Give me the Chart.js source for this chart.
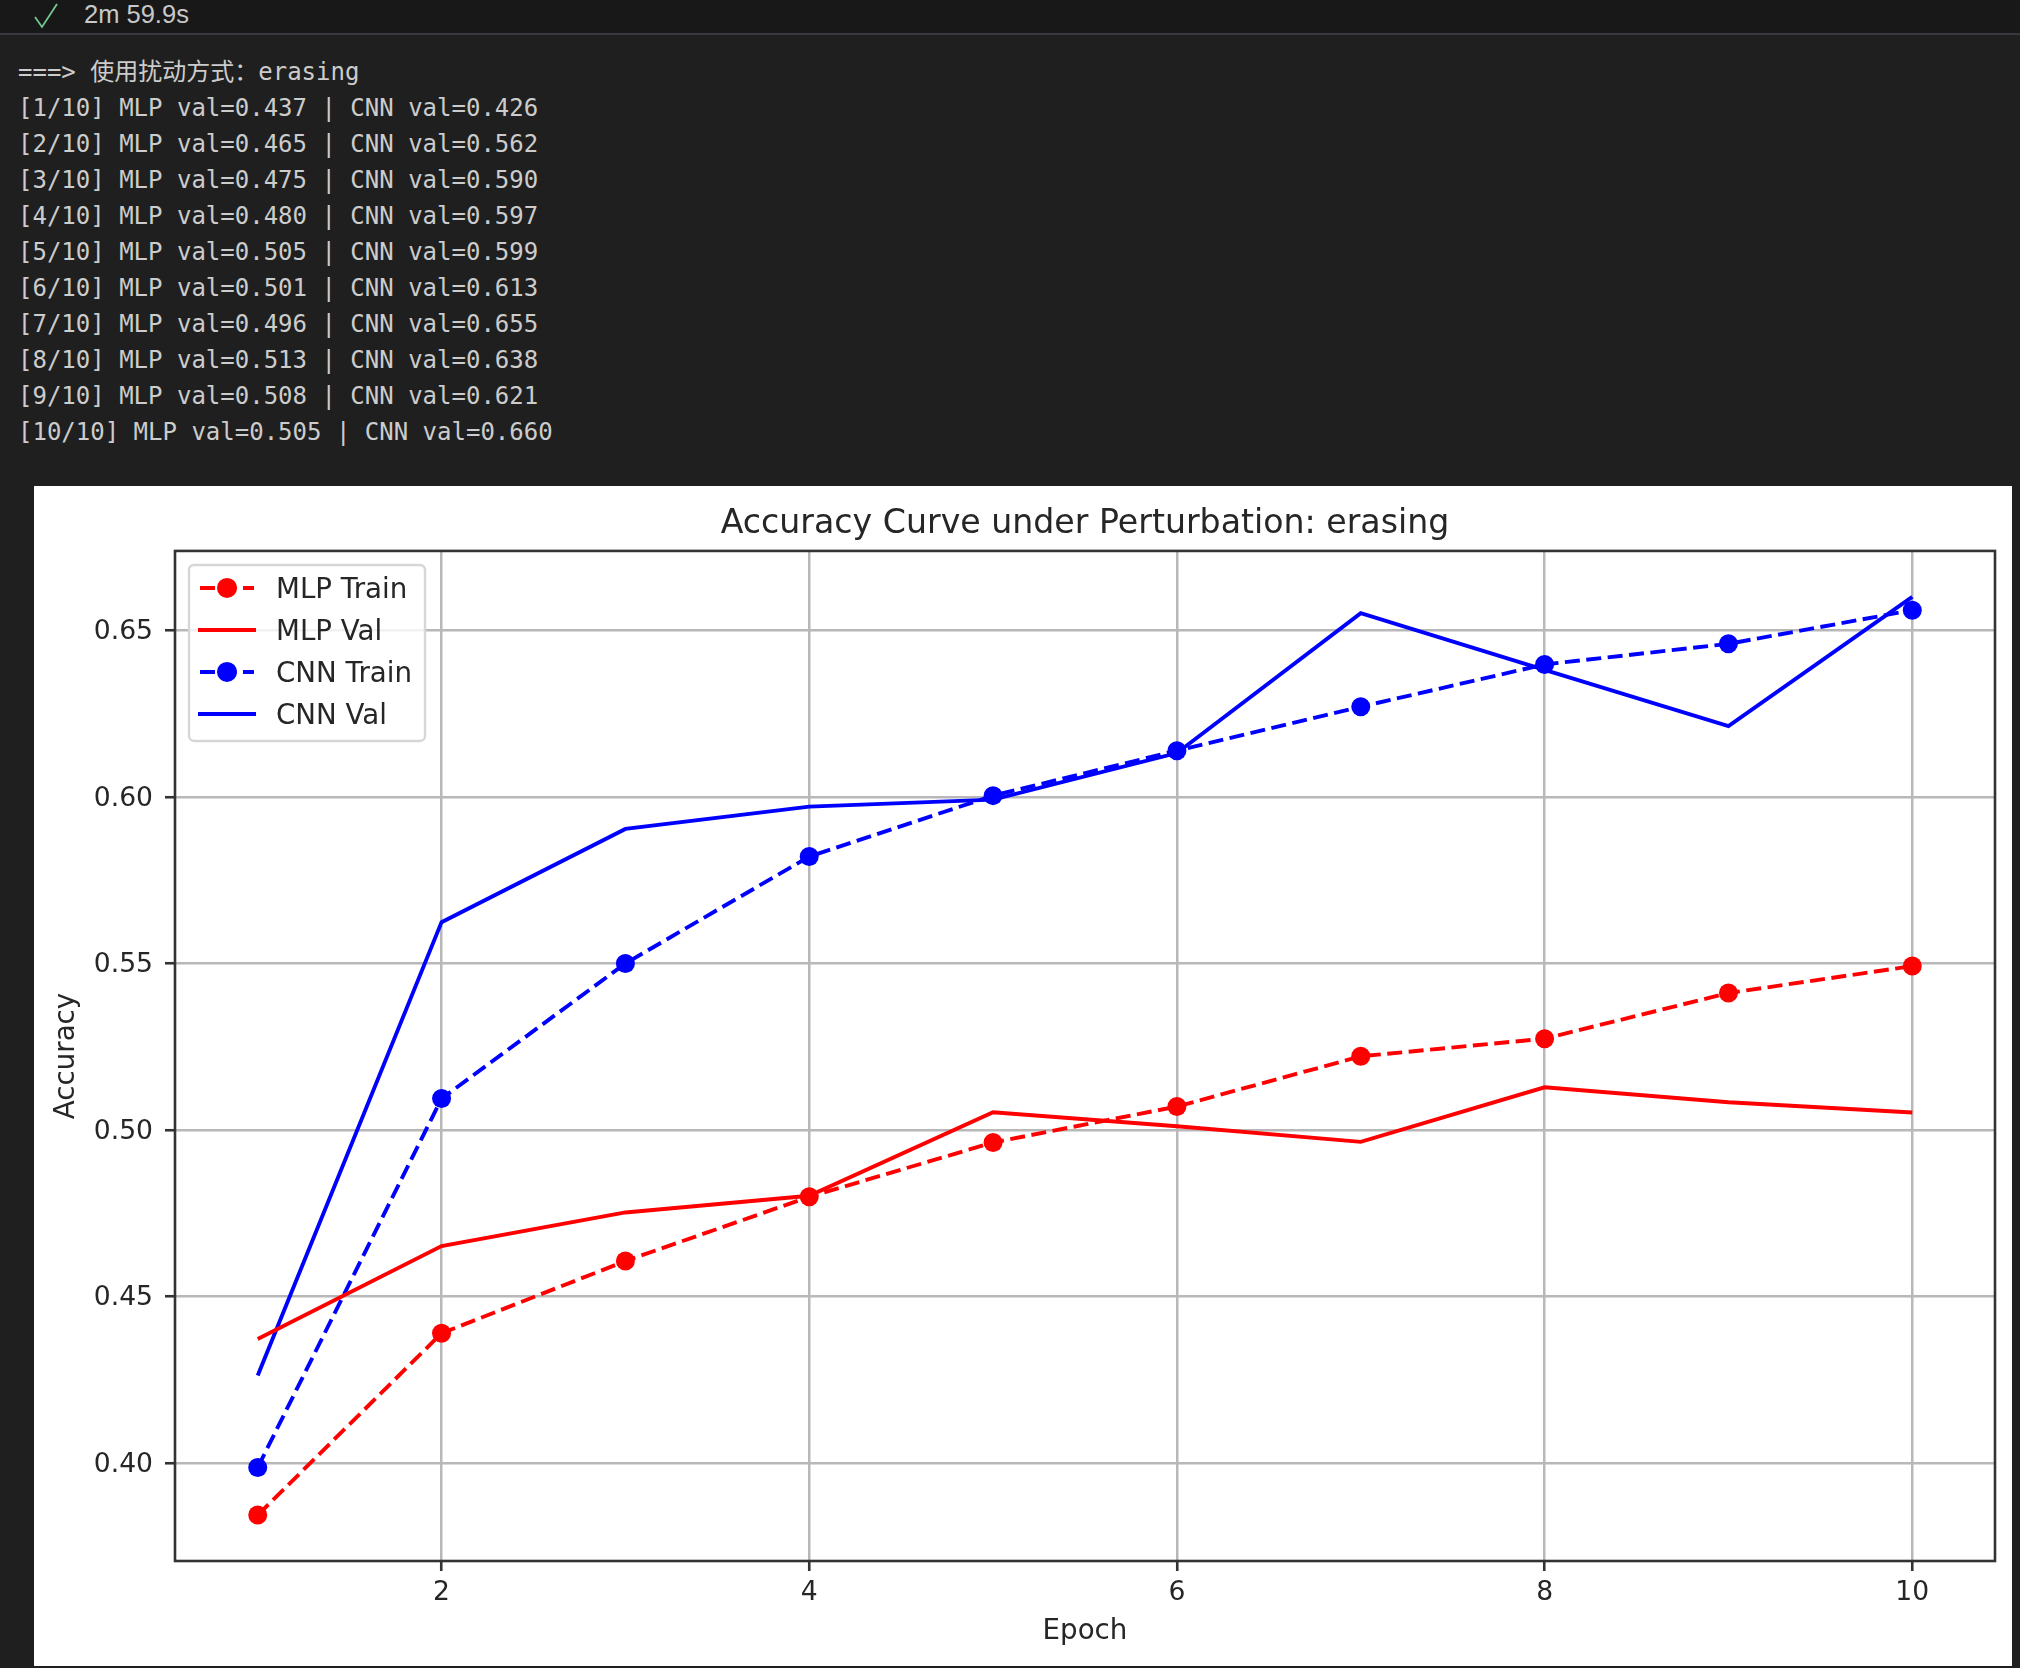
<!DOCTYPE html>
<html>
<head>
<meta charset="utf-8">
<script src="https://cdn.jsdelivr.net/npm/chart.js@4"></script>
<style>
  html, body { margin: 0; padding: 0; background: #1f1f1f; }
  body { position: relative; width: 2020px; height: 1668px; overflow: hidden; }
  #topbar { position: absolute; left: 0; top: 0; width: 2020px; height: 33px; background: #181818; border-bottom: 2px solid #38383e; }
  #check { position: absolute; left: 34px; top: 3px; }
  #elapsed { position: absolute; left: 84px; top: 0; font: 25.5px/29px "Liberation Sans", sans-serif; color: #c8c8c8; }
  #console { position: absolute; left: 18px; top: 54px; margin: 0; font: 24px/36px "DejaVu Sans Mono", "Noto Sans CJK SC", monospace; color: #cccccc; white-space: pre; }
  #chartBox { position: absolute; left: 34px; top: 486px; width: 1978px; height: 1180px; background: #fff; }
  canvas { display: block; }
</style>
</head>
<body>
<div id="topbar">
  <svg id="check" width="26" height="26" viewBox="0 0 26 26"><path d="M1 14 L8 24 L23 1" fill="none" stroke="#73c991" stroke-width="1.8"/></svg>
  <div id="elapsed">2m 59.9s</div>
</div>
<pre id="console"></pre>
<div id="chartBox"><canvas id="accChart" width="1978" height="1180"></canvas></div>
<script>
const epochs = [1, 2, 3, 4, 5, 6, 7, 8, 9, 10];
const mlpTrain = [0.3843, 0.4389, 0.4606, 0.4799, 0.4962, 0.5070, 0.5221, 0.5274, 0.5411, 0.5492];
const mlpVal = [0.4372, 0.4651, 0.4752, 0.4802, 0.5053, 0.5011, 0.4964, 0.5128, 0.5083, 0.5052];
const cnnTrain = [0.3986, 0.5094, 0.5500, 0.5821, 0.6004, 0.6139, 0.6271, 0.6398, 0.6460, 0.6561];
const cnnVal = [0.4262, 0.5624, 0.5904, 0.5971, 0.5992, 0.6132, 0.6552, 0.6382, 0.6213, 0.6601];
const xTicks = [2, 4, 6, 8, 10];
const yTicks = [0.40, 0.45, 0.50, 0.55, 0.60, 0.65];
const perturbation = 'erasing';

// terminal output above the figure
const consoleLines = ['===> 使用扰动方式：' + perturbation];
epochs.forEach((e, i) => {
  consoleLines.push(`[${e}/${epochs.length}] MLP val=${mlpVal[i].toFixed(3)} | CNN val=${cnnVal[i].toFixed(3)}`);
});
document.getElementById('console').textContent = consoleLines.join('\n');

const FONT = '"DejaVu Sans", sans-serif';
const INK = '#262626';
const LW = 3.9;
const DASH = [15, 6.5];
const LABEL_SIZE = 27.7;
const TICK_SIZE = 26.6;

function series(label, values, color, train) {
  return {
    label: label,
    data: values.map((v, i) => ({ x: epochs[i], y: v })),
    borderColor: color,
    backgroundColor: color,
    borderWidth: LW,
    borderDash: train ? DASH : [],
    pointRadius: train ? 9.5 : 0,
    pointBorderWidth: 0,
    tension: 0,
    isTrain: train
  };
}

// spines on all four sides
const framePlugin = {
  id: 'frame',
  afterDatasetsDraw(chart) {
    const a = chart.chartArea, c = chart.ctx;
    c.save();
    c.strokeStyle = '#333';
    c.lineWidth = 2.6;
    c.strokeRect(a.left, a.top, a.right - a.left, a.bottom - a.top);
    c.restore();
  }
};

// matplotlib style legend, handle has line + marker
const legendPlugin = {
  id: 'boxLegend',
  afterDraw(chart) {
    const a = chart.chartArea, c = chart.ctx;
    const x = a.left + 14, y = a.top + 14, w = 236, h = 176;
    c.save();
    c.beginPath();
    c.roundRect(x, y, w, h, 5);
    c.fillStyle = 'rgba(255,255,255,0.8)';
    c.fill();
    c.strokeStyle = '#d6d6d6';
    c.lineWidth = 2.4;
    c.stroke();
    c.font = LABEL_SIZE + 'px ' + FONT;
    c.textBaseline = 'middle';
    chart.data.datasets.forEach((ds, i) => {
      const ry = y + 23 + i * 42;
      c.strokeStyle = ds.borderColor;
      c.lineWidth = LW;
      c.setLineDash(ds.isTrain ? DASH : []);
      c.beginPath();
      c.moveTo(x + (ds.isTrain ? 11 : 9), ry);
      c.lineTo(x + (ds.isTrain ? 65 : 67), ry);
      c.stroke();
      c.setLineDash([]);
      if (ds.isTrain) {
        c.fillStyle = ds.borderColor;
        c.beginPath();
        c.arc(x + 38, ry, 10, 0, Math.PI * 2);
        c.fill();
      }
      c.fillStyle = INK;
      c.fillText(ds.label, x + 87, ry + 2.5);
    });
    c.restore();
  }
};

new Chart(document.getElementById('accChart'), {
  type: 'line',
  data: {
    datasets: [
      series('MLP Train', mlpTrain, '#ff0000', true),
      series('MLP Val', mlpVal, '#ff0000', false),
      series('CNN Train', cnnTrain, '#0000ff', true),
      series('CNN Val', cnnVal, '#0000ff', false)
    ]
  },
  options: {
    responsive: false,
    devicePixelRatio: 1,
    animation: false,
    layout: { padding: { top: 0, right: 17, bottom: 0, left: 0 } },
    plugins: {
      legend: { display: false },
      tooltip: { enabled: false },
      title: {
        display: true,
        fullSize: false,
        text: 'Accuracy Curve under Perturbation: ' + perturbation,
        color: INK,
        font: { family: FONT, size: 33.2, weight: 'normal', lineHeight: 1.2 },
        padding: { top: 18.2, bottom: 6.9 }
      }
    },
    scales: {
      x: {
        type: 'linear',
        min: 0.55,
        max: 10.45,
        afterBuildTicks(scale) { scale.ticks = xTicks.map(v => ({ value: v })); },
        afterFit(scale) { scale.height = 105; },
        border: { display: false },
        grid: { color: '#b8b8b8', lineWidth: 2.5, tickColor: '#333', tickWidth: 2.6, tickLength: 10 },
        ticks: { color: INK, font: { family: FONT, size: TICK_SIZE }, maxRotation: 0, autoSkip: false, padding: 6, callback: v => String(v) },
        title: { display: true, text: 'Epoch', color: INK, font: { family: FONT, size: LABEL_SIZE }, padding: { top: 0, bottom: 18 } }
      },
      y: {
        min: 0.3705,
        max: 0.6739,
        afterBuildTicks(scale) { scale.ticks = yTicks.map(v => ({ value: v })); },
        afterFit(scale) { scale.width = 141; },
        border: { display: false },
        grid: { color: '#b8b8b8', lineWidth: 2.5, tickColor: '#333', tickWidth: 2.6, tickLength: 10 },
        ticks: { color: INK, font: { family: FONT, size: TICK_SIZE }, autoSkip: false, padding: 12, labelOffset: 2, callback: v => v.toFixed(2) },
        title: { display: true, text: 'Accuracy', color: INK, font: { family: FONT, size: LABEL_SIZE }, padding: { top: 16, bottom: 0 } }
      }
    }
  },
  plugins: [framePlugin, legendPlugin]
});
</script>
</body>
</html>
